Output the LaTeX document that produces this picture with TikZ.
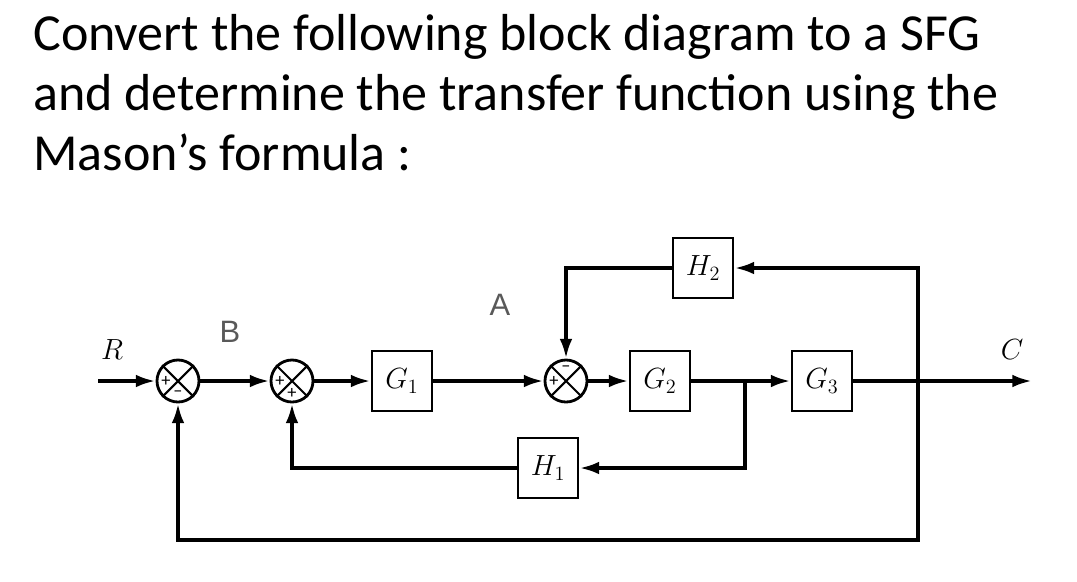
\documentclass[tikz,border=0pt]{standalone}
\usepackage{fontspec}
\setmainfont{Carlito}
\newfontfamily\arialf{Liberation Sans}
\usetikzlibrary{arrows.meta}
\begin{document}
\begin{tikzpicture}[x=0.025cm,y=-0.025cm,
  blk/.style={draw,line width=2pt,minimum width=1.5cm,minimum height=1.5cm,font=\fontsize{20}{22}\selectfont},
  sj/.style={draw,circle,line width=2pt,minimum size=1.05cm,inner sep=0pt},
  wire/.style={line width=2.6pt},
  arr/.style={wire,-{Latex[length=14pt,width=9pt]}},
  sg/.style={font=\fontsize{13}{14}\selectfont,inner sep=0pt},
  lab/.style={font=\fontsize{20}{22}\selectfont},
  let/.style={font=\arialf\fontsize{22}{24}\selectfont,text=black!65}]
\useasboundingbox (0,0) rectangle (1077,581);
\node[anchor=north west,align=left,font=\fontsize{37}{42.7}\selectfont,inner sep=0pt] (title) at (33,14)
 {Convert the following block diagram to a SFG\\and determine the transfer function using the\\Mason’s formula :};
\node[sj] (j1) at (178,381) {};
\node[sj] (j2) at (292,381) {};
\node[sj] (j3) at (566,381) {};
\foreach \j in {j1,j2,j3}{
 \draw[line width=1.5pt] (\j.north west)--(\j.south east) (\j.north east)--(\j.south west);}
\node[sg] (p1) at (166,381) {+};
\node[sg] (m1) at (178,394) {--};
\node[sg] (p2) at (280,381) {+};
\node[sg] (p2b) at (292,393) {+};
\node[sg] (p3) at (554,381) {+};
\node[sg] (m3) at (566,369) {--};
\node[blk] (g1) at (402,381) {$G_1$};
\node[blk] (g2) at (660,381) {$G_2$};
\node[blk] (g3) at (822,381) {$G_3$};
\node[blk] (h2) at (703,268) {$H_2$};
\node[blk] (h1) at (548,468) {$H_1$};
\coordinate (rin) at (98,381);
\coordinate (cout) at (1032,381);
\coordinate (t) at (918,381);
\coordinate (s) at (745,381);
\node[lab] (R) at (112,350) {$R$};
\node[lab] (C) at (1012,350) {$C$};
\node[let] (B) at (230,332) {B};
\node[let] (A) at (500,305) {A};
\draw[arr] (rin)--(j1);
\draw[arr] (j1)--(j2);
\draw[arr] (j2)--(g1);
\draw[arr] (g1)--(j3);
\draw[arr] (j3)--(g2);
\draw[arr] (g2)--(g3);
\draw[arr] (g3)--(cout);
\draw[arr] (t)--(t|-h2)--(h2);
\draw[arr] (h2)--(j3|-h2)--(j3);
\draw[arr] (s)--(s|-h1)--(h1);
\draw[arr] (h1)--(j2|-h1)--(j2);
\draw[arr] (t)--(918,540)--(178,540)--(j1);
\end{tikzpicture}
\end{document}
